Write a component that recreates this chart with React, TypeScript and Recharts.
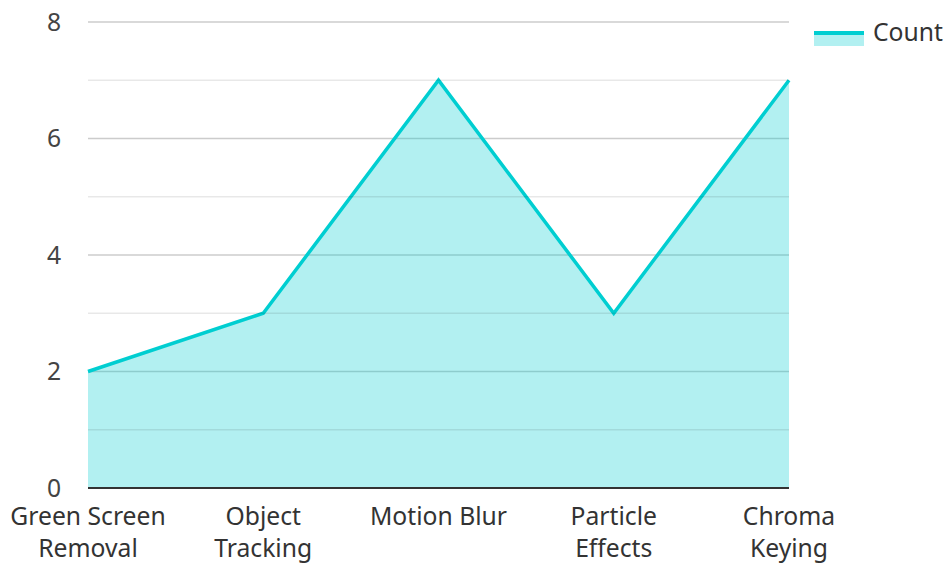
import React from "react";
import {
  AreaChart,
  Area,
  XAxis,
  YAxis,
  CartesianGrid,
  ReferenceLine,
} from "recharts";

const categories = ["Green Screen Removal", "Object Tracking", "Motion Blur", "Particle Effects", "Chroma Keying"];
const counts = [2, 3, 7, 3, 7];
const tickLines = [
  ["Green Screen", "Removal"],
  ["Object", "Tracking"],
  ["Motion Blur"],
  ["Particle", "Effects"],
  ["Chroma", "Keying"],
];
const yTicks = [0, 2, 4, 6, 8];
const minorTicks = [1, 3, 5, 7];
const seriesName = "Count";

const data = categories.map((name, i) => ({ name, count: counts[i] }));

const FONT = "'Noto Sans', 'Open Sans', sans-serif";
const FONT_SIZE = 24.7;
const TEAL = "#00CED1";

function XTick(props: any) {
  const { x, y, index } = props;
  const lines = tickLines[index] || [];
  return (
    <text x={x} y={y} textAnchor="middle" fill="#333" fontSize={FONT_SIZE} fontFamily={FONT}>
      {lines.map((l, i) => (
        <tspan key={i} x={x} dy={i === 0 ? 37 : 32}>
          {l}
        </tspan>
      ))}
    </text>
  );
}

// legend drawn by hand, recharts Legend steals plot height
function ChartLegend() {
  return (
    <svg width={133} height={45} style={{ position: "absolute", left: 814, top: 10 }}>
      <rect x={0} y={24} width={50} height={12} fill={TEAL} fillOpacity={0.3} />
      <line x1={0} x2={50} y1={23} y2={23} stroke={TEAL} strokeWidth={4} />
      <text x={59} y={31} fontSize={FONT_SIZE} fill="#333" fontFamily={FONT}>
        {seriesName}
      </text>
    </svg>
  );
}

export default function App() {
  return (
    <div style={{ position: "absolute", left: 0, top: 0, width: 947, height: 565, background: "#fff" }}>
      <AreaChart width={947} height={565} data={data} margin={{ top: 22, right: 158, bottom: 0, left: 0 }}>
        <CartesianGrid vertical={false} stroke="#cccccc" strokeWidth={1.5} />
        <XAxis
          dataKey="name"
          interval={0}
          tickLine={false}
          tickSize={0}
          tickMargin={0}
          height={77}
          stroke="#333"
          strokeWidth={2}
          tick={<XTick />}
        />
        <YAxis
          width={88}
          domain={[0, 8]}
          ticks={yTicks}
          axisLine={false}
          tickLine={false}
          tickMargin={21}
          tick={{ fill: "#444", fontSize: FONT_SIZE, fontFamily: FONT }}
        />
        <Area
          type="linear"
          dataKey="count"
          name={seriesName}
          stroke={TEAL}
          strokeWidth={3.5}
          fill={TEAL}
          fillOpacity={0.3}
          isAnimationActive={false}
          dot={false}
          activeDot={false}
        />
        {/* minor lines sit on top, translucent so they darken under the fill */}
        {minorTicks.map((v) => (
          <ReferenceLine key={v} y={v} stroke="rgba(0,0,0,0.09)" strokeWidth={1.5} />
        ))}
      </AreaChart>
      <ChartLegend />
    </div>
  );
}
